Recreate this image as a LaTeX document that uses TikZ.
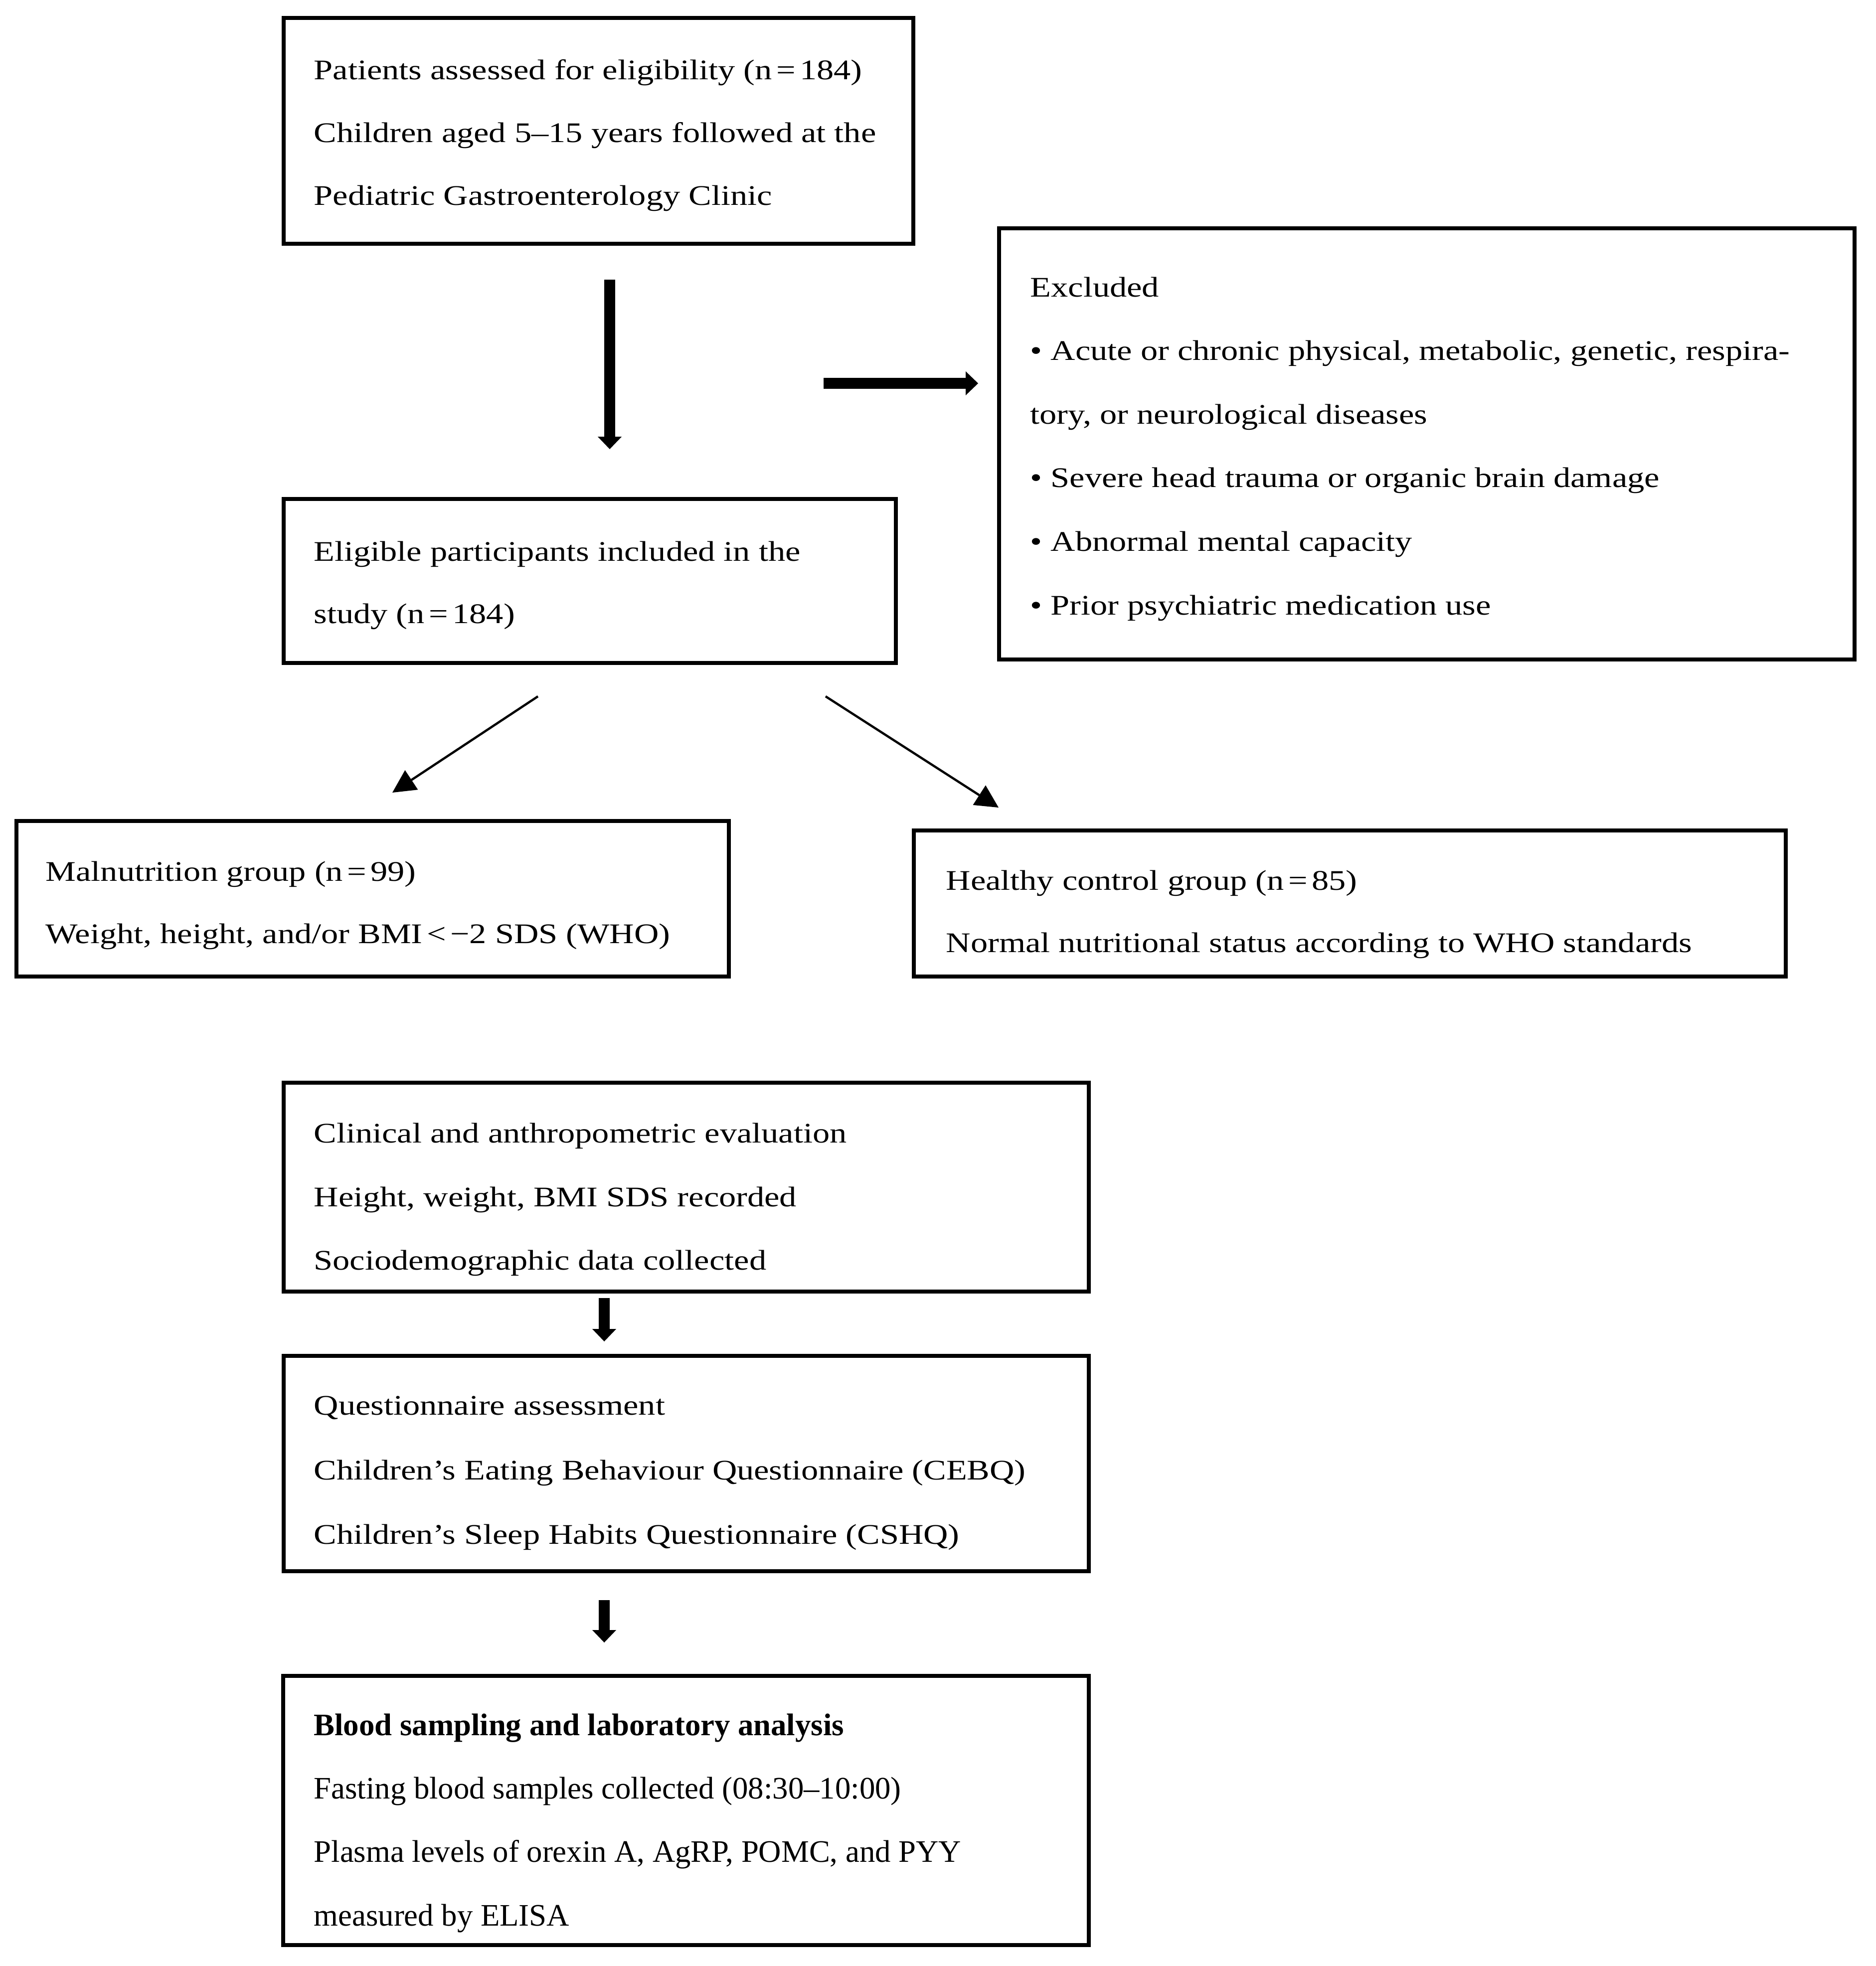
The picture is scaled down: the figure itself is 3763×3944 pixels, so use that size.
\documentclass[tikz,border=0pt]{standalone}
\usepackage{fontspec}
\setmainfont{Liberation Serif}
\newfontfamily\palfam[FakeStretch=1.2]{Liberation Serif}
\usetikzlibrary{arrows.meta,fit}
\newcommand\palsize{\fontsize{16.2pt}{16.2pt}\selectfont\palfam}
\newcommand\timsize{\fontsize{17.84pt}{17.84pt}\selectfont\rmfamily}
\newcommand\nsp{\hspace{0.15em}}
\tikzset{
 box/.style={draw=black, line width=2.42pt, inner sep=0pt, outer sep=0pt},
 ptxt/.style={anchor=base west, inner sep=0pt, font=\palsize},
 ttxt/.style={anchor=base west, inner sep=0pt, font=\timsize},
 bigarrow/.style={line width=6.26pt, -{Triangle[width=13.66pt,length=7.11pt,line width=0pt]}},
 thinarrow/.style={line width=1.28pt, -{Triangle[width=13.37pt,length=13.09pt,line width=0pt]}},
}
\begin{document}
\begin{tikzpicture}[x=0.01cm,y=-0.01cm]
\useasboundingbox (0,0) rectangle (3763,3944);
% boxes
\node[box, fit={(569,36) (1832,489)}] (A) {};
\node[box, fit={(569,1001) (1797,1330)}] (B) {};
\node[box, fit={(2004,458) (3720,1323)}] (E) {};
\node[box, fit={(33,1647) (1462,1959)}] (M) {};
\node[box, fit={(1833,1666) (3582,1959)}] (H) {};
\node[box, fit={(569,2172) (2184,2591)}] (C) {};
\node[box, fit={(569,2720) (2184,3152)}] (Q) {};
\node[box, fit={(568,3362) (2184,3902)}] (L) {};
% texts
\node[ptxt] (A1) at (629,159) {Patients assessed for eligibility (n\nsp=\nsp184)};
\node[ptxt] (A2) at (629,285) {Children aged 5–15 years followed at the};
\node[ptxt] (A3) at (629,411) {Pediatric Gastroenterology Clinic};
\node[ptxt] (B1) at (629,1125) {Eligible participants included in the};
\node[ptxt] (B2) at (629,1250) {study (n\nsp=\nsp184)};
\node[ptxt] (E1) at (2066,595) {Excluded};
\node[ptxt] (E2) at (2066,722) {• Acute or chronic physical, metabolic, genetic, respira-};
\node[ptxt] (E3) at (2066,850) {tory, or neurological diseases};
\node[ptxt] (E4) at (2066,977) {• Severe head trauma or organic brain damage};
\node[ptxt] (E5) at (2066,1105) {• Abnormal mental capacity};
\node[ptxt] (E6) at (2066,1233) {• Prior psychiatric medication use};
\node[ptxt] (M1) at (91,1767) {Malnutrition group (n\nsp=\nsp99)};
\node[ptxt] (M2) at (91,1892) {Weight, height, and/or BMI\nsp<\nsp−2 SDS (WHO)};
\node[ptxt] (H1) at (1897,1785) {Healthy control group (n\nsp=\nsp85)};
\node[ptxt] (H2) at (1897,1910) {Normal nutritional status according to WHO standards};
\node[ptxt] (C1) at (629,2292) {Clinical and anthropometric evaluation};
\node[ptxt] (C2) at (629,2420) {Height, weight, BMI SDS recorded};
\node[ptxt] (C3) at (629,2547) {Sociodemographic data collected};
\node[ptxt] (Q1) at (629,2838) {Questionnaire assessment};
\node[ptxt] (Q2) at (629,2968) {Children’s Eating Behaviour Questionnaire (CEBQ)};
\node[ptxt] (Q3) at (629,3097) {Children’s Sleep Habits Questionnaire (CSHQ)};
\node[ttxt] (L1) at (629,3481) {\bfseries Blood sampling and laboratory analysis};
\node[ttxt] (L2) at (629,3608) {Fasting blood samples collected (08:30–10:00)};
\node[ttxt] (L3) at (629,3735) {Plasma levels of orexin A, AgRP, POMC, and PYY};
\node[ttxt] (L4) at (629,3863) {measured by ELISA};
% arrow end points
\coordinate (a1s) at (1223,561);  \coordinate (a1e) at (1223,901);
\coordinate (a2s) at (1652,769);  \coordinate (a2e) at (1962,769);
\coordinate (d1s) at (1079,1397); \coordinate (d1e) at (787,1590);
\coordinate (d2s) at (1656,1397); \coordinate (d2e) at (2003,1620);
\coordinate (a3s) at (1212,2604); \coordinate (a3e) at (1212,2691);
\coordinate (a4s) at (1212,3210); \coordinate (a4e) at (1212,3295);
% arrows
\draw[bigarrow] (a1s) -- (a1e);
\draw[bigarrow] (a2s) -- (a2e);
\draw[thinarrow] (d1s) -- (d1e);
\draw[thinarrow] (d2s) -- (d2e);
\draw[bigarrow] (a3s) -- (a3e);
\draw[bigarrow] (a4s) -- (a4e);
\end{tikzpicture}
\end{document}
